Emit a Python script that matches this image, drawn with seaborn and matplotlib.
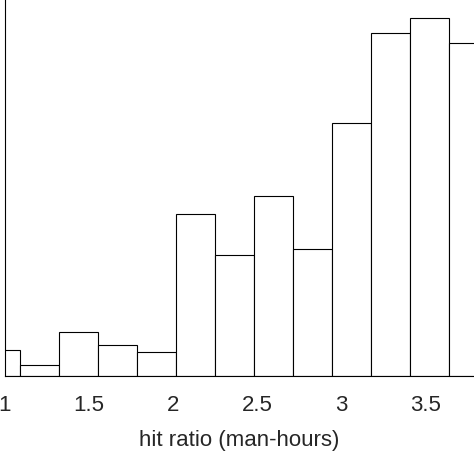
import matplotlib
matplotlib.use("Agg")
import matplotlib.pyplot as plt
import seaborn as sns
import numpy as np

bin_centers = [0.973, 1.205, 1.437, 1.669, 1.901, 2.133, 2.365, 2.597, 2.829, 3.061, 3.293, 3.525, 3.757]
counts = [0.41, 0.17, 0.70, 0.49, 0.38, 2.57, 1.92, 2.86, 2.02, 4.02, 5.44, 5.68, 5.29]
bin_edges = [0.857 + 0.232 * i for i in range(14)]

sns.set_style("white")
plt.rcParams['font.family'] = ['Liberation Sans', 'DejaVu Sans']
fig = plt.figure(figsize=(4.74, 4.54), dpi=100)
ax = fig.add_axes([5/474, 1 - 376/454, 1 - 5/474, 376/454])
sns.histplot(x=bin_centers, weights=counts, bins=bin_edges, ax=ax,
             color="white", edgecolor="black", linewidth=0.8, alpha=1)
ax.set_axisbelow(False)
ax.set_xlim(1, 3.79)
ax.set_ylim(0, 5.97)
ax.set_xticks([1, 1.5, 2, 2.5, 3, 3.5])
ax.set_xticklabels(["1", "1.5", "2", "2.5", "3", "3.5"])
ax.set_yticks([0, 1, 2, 3, 4, 5])
ax.set_yticklabels([])
ax.tick_params(direction="in", length=6, labelsize=16, width=0.8, pad=14)
ax.set_ylabel("")
ax.set_xlabel("hit ratio (man-hours)", fontsize=16, labelpad=10)
for s in ["top", "right"]:
    ax.spines[s].set_visible(False)
for s in ["left", "bottom"]:
    ax.spines[s].set_color("black")
    ax.spines[s].set_linewidth(0.8)
    ax.spines[s].set_zorder(5)
fig.savefig("out.png", dpi=100)
